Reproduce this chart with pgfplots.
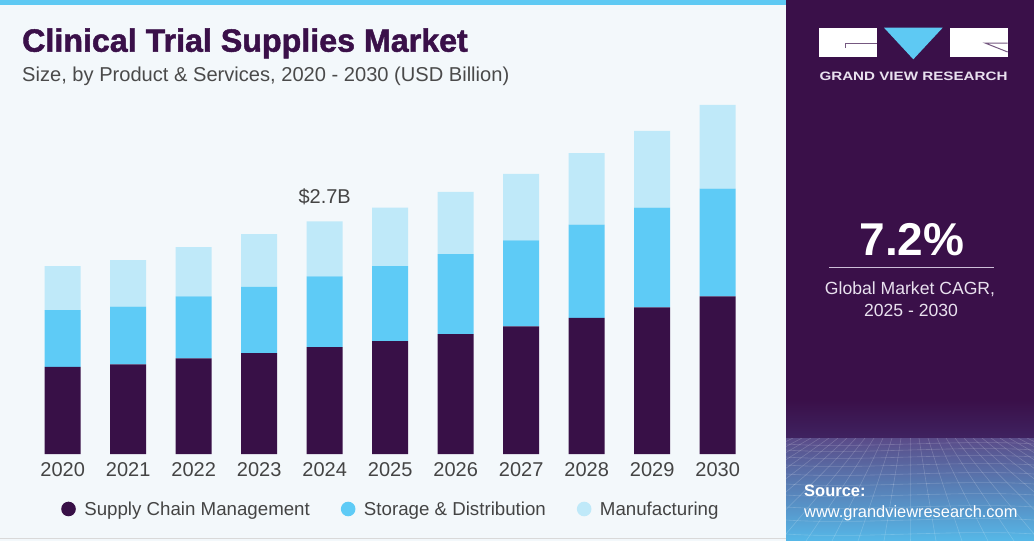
\documentclass[border=0pt]{standalone}
\usepackage{graphicx}
\usepackage{pgfplots}
\pgfplotsset{compat=1.18}
\usepackage{fontspec}
\setmainfont{Liberation Sans}
\newfontfamily\heavyfont{Liberation Sans Bold}[FakeBold=1.5]

\definecolor{gvpurple}{HTML}{3A1049}
\definecolor{barDark}{HTML}{381047}
\definecolor{barMid}{HTML}{5ECBF6}
\definecolor{barLight}{HTML}{BFE9F9}
\definecolor{panelbg}{HTML}{F3F8FB}
\definecolor{stripblue}{HTML}{5EC9F3}
\definecolor{txtgray}{HTML}{444444}
\definecolor{subgray}{HTML}{4A4A4A}
\definecolor{lavtext}{HTML}{E9E1EF}
\definecolor{lavline}{HTML}{CDBFD8}
\definecolor{meshtop}{HTML}{5A4B88}
\definecolor{meshbot}{HTML}{56B8E8}
\definecolor{bandpurple}{HTML}{3F2260}

\begin{document}
\begin{tikzpicture}
\path[use as bounding box] (0pt,0pt) rectangle (1034pt,-541pt);
\begin{scope}[x=1pt,y=-1pt]
  % backgrounds
  \fill[panelbg] (0,0) rectangle (786,541);
  \fill[stripblue] (0,0) rectangle (786,5);
  \draw[black!15, line width=1pt] (0,538.5) -- (786,538.5);
  \fill[gvpurple] (786,0) rectangle (1034,541);
  \shade[top color=gvpurple, bottom color=bandpurple] (786,400) rectangle (1034,438);
  \shade[top color=meshtop, bottom color=meshbot] (786,438) rectangle (1034,541);
  \begin{scope}
    \clip (786,438) rectangle (1034,541);
    \foreach \yy in {444,450,457,465,474,484,495,507,520,534}
      \draw[white, opacity=0.18, line width=0.6pt] (786,\yy) .. controls (860,\yy+5) and (960,\yy-5) .. (1034,\yy);
    \foreach \k in {-14,...,14}
      \draw[white, opacity=0.18, line width=0.6pt] (910+\k*9,438) .. controls (910+\k*14,470) .. (910+\k*26,541);
  \end{scope}
  % logo
  \fill[white] (819,27.7) rectangle (877.3,56.7);
  \fill[white] (950,27.7) rectangle (1007.7,56.7);
  \fill[stripblue] (884,27.7) -- (942.7,27.7) -- (913.3,59.3) -- cycle;
  \draw[gvpurple!70, line width=1pt] (845,48) -- (845,43.3) -- (877.3,43.3);
  \draw[gvpurple!70, line width=1pt] (1007.7,43) -- (985,43) -- (1007.7,52);
  \node[anchor=base west, inner sep=0, text=lavtext] at (819.3,80.7)
    {\resizebox{188pt}{8.5pt}{\bfseries GRAND VIEW RESEARCH}};
  % titles
  \node[anchor=base west, inner sep=0, text=gvpurple, font=\fontsize{32.2}{38}\heavyfont] at (22,51.7)
    {Clinical Trial Supplies Market};
  \node[anchor=base west, inner sep=0, text=subgray, font=\fontsize{20.1}{24}\selectfont] at (22,81)
    {Size, by Product \& Services, 2020 - 2030 (USD Billion)};
  % right panel texts
  \node[anchor=base, inner sep=0, text=white, font=\fontsize{46}{50}\selectfont\bfseries] at (912,255) {7.2\%};
  \draw[lavline, line width=1.5pt] (829,267.7) -- (994,267.7);
  \node[anchor=base, inner sep=0, text=lavtext, font=\fontsize{17.6}{22}\selectfont] at (910,294) {Global Market CAGR,};
  \node[anchor=base, inner sep=0, text=lavtext, font=\fontsize{17.6}{22}\selectfont] at (911,316) {2025 - 2030};
  \node[anchor=base west, inner sep=0, text=white, font=\fontsize{16.5}{20}\selectfont\bfseries] at (804,496) {Source:};
  \node[anchor=base west, inner sep=0, text=white, font=\fontsize{16.4}{20}\selectfont] at (804,517) {www.grandviewresearch.com};
\end{scope}

\begin{axis}[
  at={(29.95pt,-454pt)}, anchor=south west,
  scale only axis, width=720.5pt, height=362pt,
  xmin=-0.5, xmax=10.5, ymin=0, ymax=4.2,
  ybar stacked, bar width=36pt,
  axis line style={draw=none},
  ytick=\empty,
  xtick={0,...,10},
  xticklabels={2020,2021,2022,2023,2024,2025,2026,2027,2028,2029,2030},
  major tick length=0pt,
  xtick style={draw=none},
  xticklabel style={font=\fontsize{20}{24}\selectfont, text=txtgray, yshift=-4.5pt},
  clip=false,
  legend columns=3,
  legend cell align=left,
  legend style={at={(0.0431,-0.1519)}, anchor=west, draw=none, fill=none,
    inner sep=0pt, font=\fontsize{18.7}{22}\selectfont,
    nodes={inner sep=0pt, text=txtgray},
    /tikz/every odd column/.append style={column sep=8.5pt},
    /tikz/every even column/.append style={column sep=31pt}},
]
\addplot[fill=barDark, draw=none, legend image code/.code={\fill[barDark] (0pt,0pt) circle (7.3pt);}]
  coordinates {(0,1.01) (1,1.04) (2,1.11) (3,1.17) (4,1.24) (5,1.31) (6,1.39) (7,1.48) (8,1.58) (9,1.70) (10,1.83)};
\addplot[fill=barMid, draw=none, legend image code/.code={\fill[barMid] (0pt,0pt) circle (7.3pt);}]
  coordinates {(0,0.66) (1,0.67) (2,0.72) (3,0.77) (4,0.82) (5,0.87) (6,0.93) (7,1.00) (8,1.08) (9,1.16) (10,1.25)};
\addplot[fill=barLight, draw=none, legend image code/.code={\fill[barLight] (0pt,0pt) circle (7.3pt);}]
  coordinates {(0,0.51) (1,0.54) (2,0.57) (3,0.61) (4,0.64) (5,0.68) (6,0.72) (7,0.77) (8,0.83) (9,0.89) (10,0.97)};
\legend{Supply Chain Management, Storage \& Distribution, Manufacturing}
\node[anchor=base, inner sep=0, font=\fontsize{20}{24}\selectfont, text=txtgray, yshift=18pt] at (axis cs:4,2.70) {\$2.7B};
\end{axis}
\end{tikzpicture}
\end{document}
